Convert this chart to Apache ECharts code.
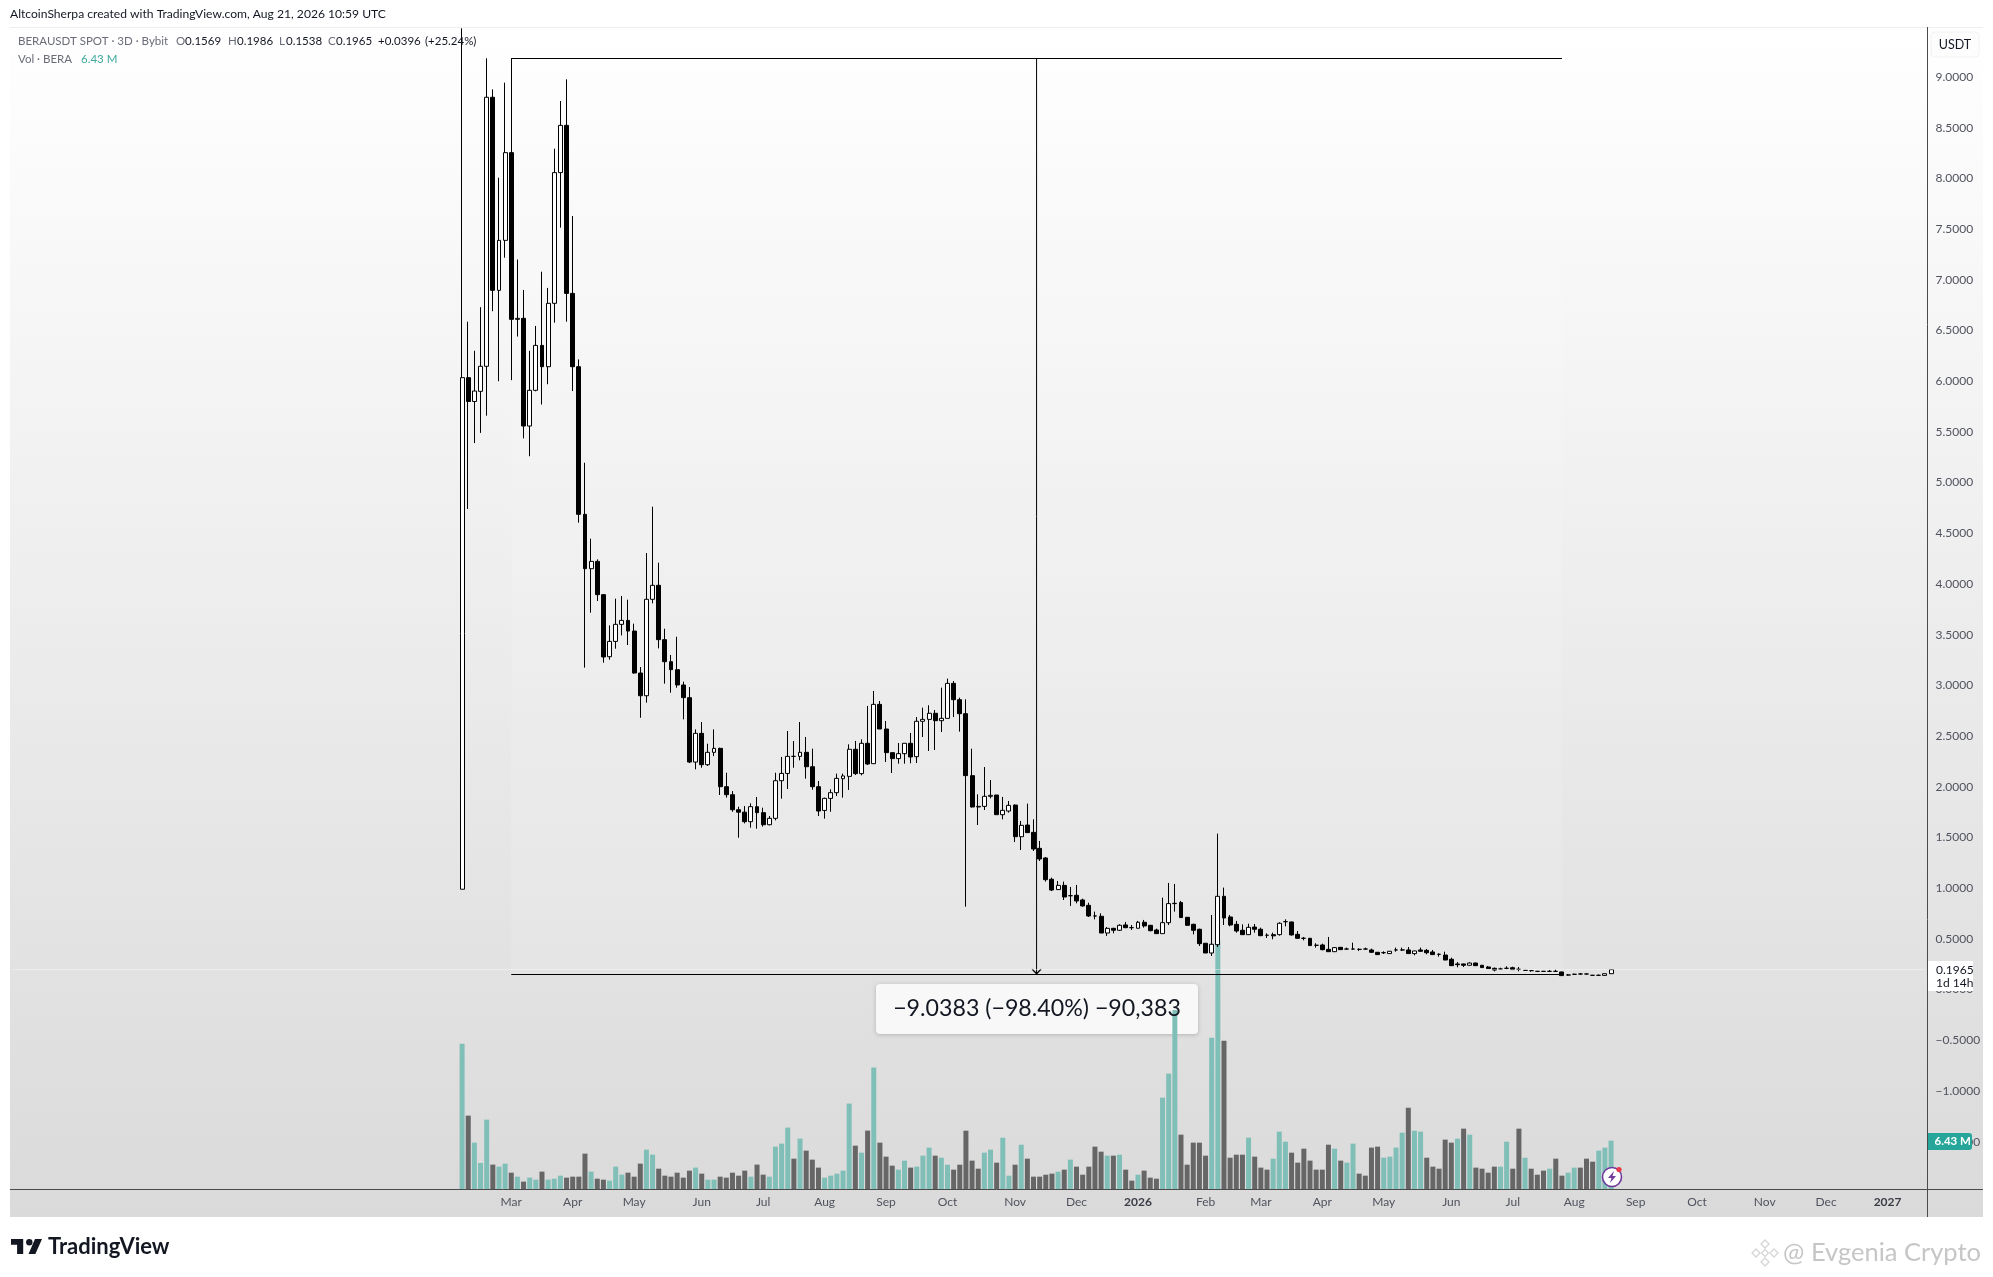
<!DOCTYPE html>
<html>
<head>
<meta charset="utf-8">
<title>BERAUSDT</title>
<style>html,body{margin:0;padding:0;background:#fff}#c{width:1993px;height:1277px}</style>
<script src="https://cdn.jsdelivr.net/npm/echarts@6/dist/echarts.min.js"></script>
</head>
<body>
<div id="c"></div>
<script>
const opens=[0.99,6.035,5.8,5.9,6.147,8.8,6.896,7.389,8.254,6.61,6.62,5.558,5.91,6.353,6.143,6.768,8.057,8.523,6.866,6.143,
4.687,4.151,4.223,3.895,3.283,3.434,3.602,3.641,3.536,3.122,2.898,3.849,3.987,3.451,3.234,3.155,3.004,2.879,2.244,2.527,
2.218,2.34,2.379,2.001,1.922,1.774,1.75,1.656,1.804,1.745,1.626,1.689,2.06,2.132,2.3,2.3,2.34,2.198,2.001,1.767,
1.886,1.942,2.08,2.103,2.37,2.13,2.429,2.228,2.813,2.57,2.337,2.278,2.327,2.429,2.297,2.646,2.665,2.725,2.652,2.675,
3.02,2.859,2.721,2.11,1.801,1.807,1.906,1.919,1.725,1.761,1.82,1.508,1.623,1.551,1.393,1.298,1.088,0.986,1.028,0.926,
0.93,0.884,0.831,0.726,0.723,0.558,0.604,0.585,0.638,0.611,0.605,0.664,0.634,0.588,0.552,0.66,0.848,0.858,0.713,0.644,
0.595,0.457,0.361,0.443,0.92,0.716,0.644,0.585,0.542,0.617,0.595,0.536,0.542,0.542,0.67,0.667,0.545,0.506,0.506,0.437,
0.44,0.397,0.374,0.417,0.4,0.4,0.397,0.4,0.391,0.368,0.364,0.355,0.391,0.391,0.391,0.355,0.391,0.387,0.371,0.348,
0.341,0.299,0.253,0.253,0.24,0.262,0.24,0.223,0.21,0.203,0.21,0.216,0.2,0.19,0.187,0.18,0.18,0.18,0.18,0.174,
0.144,0.151,0.154,0.154,0.141,0.141,0.14,0.1569];
const closes=[6.035,5.8,5.903,6.147,8.8,6.896,7.389,8.254,6.61,6.62,5.558,5.91,6.353,6.143,6.768,8.057,8.523,6.866,6.143,4.687,
4.151,4.223,3.895,3.28,3.434,3.602,3.641,3.536,3.122,2.898,3.849,3.987,3.451,3.234,3.155,3.004,2.879,2.244,2.527,2.218,
2.34,2.379,2.001,1.922,1.774,1.75,1.656,1.804,1.745,1.626,1.689,2.06,2.132,2.3,2.3,2.34,2.198,2.001,1.761,1.886,
1.942,2.083,2.107,2.37,2.13,2.429,2.225,2.813,2.57,2.337,2.278,2.327,2.429,2.294,2.646,2.665,2.725,2.652,2.675,3.02,
2.859,2.721,2.11,1.801,1.807,1.906,1.916,1.725,1.768,1.817,1.508,1.62,1.548,1.387,1.288,1.084,0.982,1.028,0.913,0.926,
0.874,0.825,0.726,0.726,0.558,0.604,0.585,0.634,0.611,0.611,0.664,0.628,0.581,0.552,0.66,0.848,0.851,0.71,0.634,0.585,
0.453,0.361,0.447,0.92,0.706,0.637,0.578,0.542,0.614,0.595,0.532,0.536,0.53,0.654,0.67,0.539,0.506,0.506,0.434,0.437,
0.394,0.374,0.414,0.394,0.4,0.4,0.397,0.4,0.368,0.345,0.364,0.378,0.391,0.391,0.355,0.381,0.378,0.364,0.345,0.348,
0.292,0.236,0.246,0.24,0.262,0.236,0.217,0.207,0.193,0.203,0.21,0.197,0.2,0.19,0.187,0.18,0.18,0.18,0.18,0.138,
0.144,0.151,0.154,0.154,0.141,0.141,0.1569,0.1965];
const lows=[0.99,4.74,5.39,5.49,5.66,6.69,6,7.218,6.01,6.44,5.436,5.26,5.9,5.77,5.97,6.577,7.514,6.587,5.903,4.605,
3.175,3.717,3.832,3.224,3.254,3.362,3.493,3.398,3.116,2.681,2.83,3.809,3.365,3.017,2.928,2.977,2.665,2.234,2.172,2.188,
2.205,2.303,1.919,1.893,1.754,1.498,1.639,1.597,1.587,1.607,1.62,1.669,1.883,1.978,2.188,2.261,2.08,1.971,1.712,1.686,
1.754,1.909,1.893,1.969,2.116,2.113,2.215,2.225,2.57,2.245,2.136,2.228,2.228,2.232,2.235,2.491,2.353,2.363,2.541,2.675,
2.688,2.544,0.818,1.795,1.623,1.771,1.886,1.725,1.679,1.745,1.456,1.377,1.548,1.367,1.268,1.065,0.972,0.982,0.884,0.825,
0.851,0.818,0.716,0.693,0.558,0.529,0.555,0.578,0.605,0.588,0.605,0.611,0.575,0.549,0.552,0.637,0.769,0.706,0.627,0.545,
0.43,0.361,0.332,0.42,0.637,0.624,0.562,0.539,0.539,0.562,0.526,0.509,0.496,0.532,0.624,0.532,0.499,0.486,0.43,0.414,
0.387,0.371,0.371,0.391,0.394,0.394,0.381,0.394,0.361,0.341,0.351,0.351,0.374,0.381,0.351,0.338,0.371,0.348,0.341,0.325,
0.289,0.233,0.22,0.223,0.236,0.233,0.213,0.203,0.18,0.193,0.2,0.193,0.18,0.187,0.177,0.177,0.177,0.177,0.174,0.138,
0.138,0.144,0.148,0.148,0.138,0.138,0.138,0.1538];
const highs=[9.48,6.587,6.3,6.73,9.184,8.878,8.007,8.944,9.185,7.2,6.9,6.3,6.545,7.08,6.92,8.293,8.763,8.977,7.629,6.215,
5.196,4.447,4.243,3.9,3.592,3.855,3.881,3.845,3.609,3.181,4.305,4.762,4.21,3.559,3.3,3.48,3.037,2.984,2.566,2.639,
2.425,2.566,2.386,2.139,1.958,1.804,1.81,1.837,1.899,1.794,1.712,2.139,2.294,2.55,2.451,2.639,2.491,2.376,2.057,1.893,
1.975,2.13,2.13,2.419,2.452,2.468,2.797,2.945,2.846,2.649,2.337,2.432,2.429,2.531,2.688,2.78,2.804,2.758,2.978,3.067,
3.043,2.879,2.863,2.376,1.926,2.195,2.067,1.919,1.9,1.86,1.826,1.663,1.834,1.679,1.466,1.308,1.104,1.071,1.065,1.012,
1.032,0.897,0.857,0.769,0.752,0.617,0.61,0.644,0.667,0.637,0.677,0.687,0.637,0.601,0.907,1.052,1.042,0.874,0.716,0.65,
0.601,0.46,0.736,1.538,1.006,0.736,0.677,0.644,0.65,0.647,0.611,0.555,0.562,0.664,0.693,0.67,0.578,0.519,0.509,0.457,
0.453,0.519,0.42,0.42,0.414,0.463,0.407,0.414,0.404,0.371,0.378,0.381,0.414,0.414,0.42,0.384,0.414,0.401,0.391,0.358,
0.374,0.315,0.272,0.256,0.269,0.266,0.243,0.233,0.217,0.216,0.23,0.226,0.223,0.193,0.193,0.184,0.184,0.193,0.197,0.177,
0.154,0.157,0.164,0.157,0.144,0.148,0.158,0.1986];
const volumes=[19.3,9.75,6.16,3.46,9.22,3.24,2.97,3.37,2.17,1.64,0.98,1.51,1.24,2.31,1.24,1.37,1.77,1.51,1.64,1.64,
4.7,2.31,1.37,1.24,1.11,2.97,1.91,2.17,1.64,3.37,5.23,4.57,2.7,1.77,1.64,2.17,1.51,2.44,2.84,2.04,
1.24,1.24,1.64,1.51,2.17,1.77,2.44,1.64,3.24,1.91,1.64,5.63,6.03,8.16,4.03,6.69,5.1,3.9,2.84,1.51,
1.77,2.04,2.44,11.35,5.76,4.83,7.76,16.14,6.16,4.3,3.1,2.57,3.77,2.84,2.97,4.43,5.5,4.43,4.16,3.23,
2.57,3.23,7.75,3.77,2.7,4.83,5.23,3.5,6.82,1.77,3.23,5.89,4.03,1.64,1.64,1.9,2.04,2.3,2.57,3.9,
2.97,1.9,2.97,5.63,4.96,4.43,4.43,4.56,2.57,1.11,1.9,2.44,1.51,1.37,12.14,15.33,23.8,7.22,3.23,6.16,
6.16,4.43,20.1,33,19.7,4.16,4.56,4.56,6.82,4.3,2.84,2.57,4.03,7.62,6.29,4.83,3.5,5.36,3.77,2.57,
2.57,5.89,5.36,3.77,3.5,6.03,2.04,1.77,5.5,5.63,4.16,4.3,5.5,7.49,10.8,7.75,7.62,4.16,2.97,2.7,
6.56,6.16,6.69,8.02,7.22,2.84,2.7,2.17,2.97,2.97,6.29,2.7,8.02,4.16,2.7,1.9,2.44,2.7,4.03,1.77,
2.17,2.84,2.84,4.03,3.63,5.1,5.5,6.43];
const volumeDirection=("uduuuduududuuduuuddd"+"dudduuuddduuddddddud"+
 "uudddddudduuuududddu"+"uuuudududdduuduuuduu"+"ddddduuduududddddudu"+
 "dddddududduddduuuddd"+"dduudddduddduuuddddd"+"dduduudddduuuuduuddd"+
 "ddududddduuddudddudd"+"uuddduuu").split('');
const tickBars=[8,18,28,39,49,59,69,79,90,100,110,121,130,140,150,161,171,181,191,201,212,222,232];
const tickTexts=["Mar","Apr","May","Jun","Jul","Aug","Sep","Oct","Nov","Dec","2026","Feb","Mar","Apr","May","Jun","Jul","Aug","Sep","Oct","Nov","Dec","2027"];
const leadBars=73, totalBars=312;
const measureTop=9.185, measureBottom=0.1467, measureFirst=8, measureLast=179, measureMid=93.5;
const lastPrice=0.1965;
const FONT='Lato, "Open Sans", sans-serif';

const categories=Array.from({length:totalBars},(_,i)=>String(i-leadBars));
const tickMap={};tickBars.forEach((b,i)=>tickMap[b+leadBars]=tickTexts[i]);
const fmtPrice=v=>(v===9.5||v===-2)?'':(v<0?'\u2212':'')+Math.abs(v).toFixed(4);
const arrowHead='path://M5 0 L10 8 L9 9 L5 3 L1 9 L0 8 Z';
const m1=measureFirst+leadBars,m2=measureLast+leadBars,mm=measureMid+leadBars;
const diamond=(cx,cy,r)=>({type:'polygon',z:10,silent:true,shape:{points:[[cx,cy-r],[cx+r,cy],[cx,cy+r],[cx-r,cy]]},style:{fill:'none',stroke:'#d6d6d6',lineWidth:1.3}});
const txt=(x,y,text,fill,size,extra)=>({type:'text',z:11,silent:true,x,y,style:Object.assign({text,font:(size||11.5)+'px '+FONT,fill,textVerticalAlign:'middle'},extra||{})});
const GR='#6a6d78',DK='#131722';

const chart=echarts.init(document.getElementById('c'),null,{renderer:'canvas',width:1993,height:1277});
chart.setOption({
 animation:false,
 backgroundColor:'#ffffff',
 grid:[
  {left:10.5,width:1917,top:26.3,height:1166.1},
  {left:10.5,width:1917,top:889,height:300}
 ],
 xAxis:[
  {type:'category',gridIndex:0,data:categories,show:false},
  {type:'category',gridIndex:1,data:categories,
   axisLine:{show:false},axisTick:{show:false},splitLine:{show:false},
   axisLabel:{show:true,margin:7,fontFamily:FONT,fontSize:12,color:'#50535e',hideOverlap:false,
    interval:(i)=>tickMap[i]!==undefined,
    formatter:(v,i)=>{const t=tickMap[i];if(!t)return '';return /^\d/.test(t)?'{y|'+t+'}':t;},
    rich:{y:{fontFamily:FONT,fontSize:12,fontWeight:'bold',color:'#3a3d46'}}}},
  {type:'value',gridIndex:0,min:-0.5,max:totalBars-0.5,show:false,splitLine:{show:false}}
 ],
 yAxis:[
  {type:'value',gridIndex:0,position:'right',min:-2,max:9.5,interval:0.5,
   axisLine:{show:false},axisTick:{show:false},splitLine:{show:false},
   axisLabel:{margin:8,fontFamily:FONT,fontSize:12,color:'#50535e',formatter:fmtPrice}},
  {type:'value',gridIndex:1,min:0,max:39.87,show:false,splitLine:{show:false}}
 ],
 series:[
  {type:'bar',name:'Vol',xAxisIndex:1,yAxisIndex:1,z:1,barWidth:5,silent:true,
   data:volumes.map((v,i)=>({value:[i+leadBars,v],itemStyle:{color:volumeDirection[i]==='u'?'#80bfb8':'#666666'}}))},
  {type:'candlestick',name:'BERAUSDT',xAxisIndex:0,yAxisIndex:0,z:2,barWidth:4.4,silent:true,
   encode:{x:0,y:[1,2,3,4]},
   itemStyle:{color:'#ffffff',color0:'#000000',borderColor:'#000000',borderColor0:'#000000',borderColorDoji:'#000000',borderWidth:1},
   data:opens.map((o,i)=>[i+leadBars,o,closes[i],lows[i],highs[i]]),
   markArea:{silent:true,itemStyle:{color:'rgba(255,255,255,0.12)'},
    data:[[{coord:[m1,measureTop]},{coord:[m2,measureBottom]}]]},
   markLine:{silent:true,symbol:'none',animation:false,label:{show:false},
    lineStyle:{color:'#000000',width:1.2,type:'solid'},
    data:[
     [{coord:[m1,measureTop]},{coord:[m2,measureTop]}],
     [{coord:[m1,measureBottom]},{coord:[m2,measureBottom]}],
     [{coord:[0,lastPrice],lineStyle:{color:'rgba(255,255,255,0.75)',width:1,type:'dotted'}},{coord:[totalBars-1,lastPrice]}]
    ]}
  },
  {type:'line',name:'Measure',xAxisIndex:2,yAxisIndex:0,z:3,silent:true,showSymbol:true,showAllSymbol:true,
   lineStyle:{color:'#000000',width:1},itemStyle:{color:'#000000'},
   data:[{value:[mm,measureTop],symbol:'none'},
         {value:[mm,measureBottom],symbol:arrowHead,symbolSize:[10,6],symbolRotate:180,symbolOffset:[0,-3]}]}
 ],
 graphic:{elements:[
  {type:'rect',z:-5,silent:true,shape:{x:10,y:27,width:1973,height:1190},
   style:{fill:new echarts.graphic.LinearGradient(0,0,0,1,[{offset:0,color:'#ffffff'},{offset:1,color:'#dadada'}])}},
  {type:'line',z:-4,silent:true,shape:{x1:10,y1:27.5,x2:1983,y2:27.5},style:{stroke:'#eeeeee',lineWidth:1}},
  {type:'line',z:3,silent:true,shape:{x1:1927.5,y1:27,x2:1927.5,y2:1217},style:{stroke:'#4a4a4a',lineWidth:1}},
  {type:'line',z:3,silent:true,shape:{x1:10,y1:1189.5,x2:1983,y2:1189.5},style:{stroke:'#4a4a4a',lineWidth:1}},
  txt(10,14,'AltcoinSherpa created with TradingView.com, Aug 21, 2026 10:59 UTC',DK,12.1),
  txt(18,41,'BERAUSDT SPOT \u00b7 3D \u00b7 Bybit',GR,11.5),
  txt(176,41,'O',GR),txt(185,41,'0.1569',DK),
  txt(228,41,'H',GR),txt(237,41,'0.1986',DK),
  txt(279,41,'L',GR),txt(286,41,'0.1538',DK),
  txt(328,41,'C',GR),txt(336,41,'0.1965',DK),
  txt(378,41,'+0.0396',DK),txt(425,41,'(+25.24%)',DK),
  txt(18,59,'Vol \u00b7 BERA',GR,11.5),
  txt(81,59,'6.43 M','#3fa89d',11.5),
  {type:'rect',z:10,silent:true,shape:{x:1931,y:32,width:48,height:25,r:4},style:{fill:'#fdfdfd',stroke:'#f2f2f2',lineWidth:1}},
  txt(1955,44.5,'USDT',DK,12.5,{textAlign:'center'}),
  {type:'rect',z:10,silent:true,shape:{x:1928,y:961,width:45,height:30},style:{fill:'#ffffff'}},
  txt(1936,970,'0.1965',DK,12),
  txt(1936,983,'1d 14h',DK,12),
  {type:'rect',z:10,silent:true,shape:{x:1928,y:1133,width:44,height:17,r:[0,3,3,0]},style:{fill:'#26a69a'}},
  {type:'text',z:11,silent:true,x:1934.5,y:1141.5,style:{text:'6.43 M',font:'bold 11.5px '+FONT,fill:'#ffffff',textVerticalAlign:'middle'}},
  {type:'rect',z:0,silent:true,shape:{x:876,y:984,width:322,height:50,r:4},
   style:{fill:'#f8f8f8',shadowBlur:4,shadowOffsetY:1,shadowColor:'rgba(0,0,0,0.2)'}},
  txt(1037,1009,'\u22129.0383 (\u221298.40%) \u221290,383',DK,23.2,{textAlign:'center'}),
  {type:'polygon',z:10,silent:true,shape:{points:[[23.2,1254],[17.1,1254],[17.1,1244.8],[11,1244.8],[11,1239],[23.2,1239]]},style:{fill:DK}},
  {type:'polygon',z:10,silent:true,shape:{points:[[35.4,1254],[28.5,1254],[35,1239],[42,1239]]},style:{fill:DK}},
  {type:'circle',z:10,silent:true,shape:{cx:29.3,cy:1242.3,r:3.2},style:{fill:DK}},
  {type:'text',z:10,silent:true,x:48,y:1247,style:{text:'TradingView',font:'bold 22px '+FONT,fill:DK,textVerticalAlign:'middle'}},
  {type:'circle',z:10,silent:true,shape:{cx:1612,cy:1177,r:9.5},style:{fill:'#ffffff',stroke:'#6f3a9c',lineWidth:1.6}},
  {type:'polygon',z:11,silent:true,shape:{points:[[1614,1171],[1608,1178],[1611.5,1178],[1610,1183],[1616,1176],[1612.5,1176]]},style:{fill:'#6f3a9c'}},
  {type:'circle',z:11,silent:true,shape:{cx:1619,cy:1169.5,r:2.6},style:{fill:'#e8394a'}},
  diamond(1765,1244,4),diamond(1756,1253,4),diamond(1774,1253,4),diamond(1765,1262,4),diamond(1765,1253,3.5),
  {type:'text',z:10,silent:true,x:1981,y:1253,style:{text:'@ Evgenia Crypto',font:'25.5px '+FONT,fill:'#c6c6c6',textAlign:'right',textVerticalAlign:'middle'}}
 ]}
});
</script>
</body>
</html>
